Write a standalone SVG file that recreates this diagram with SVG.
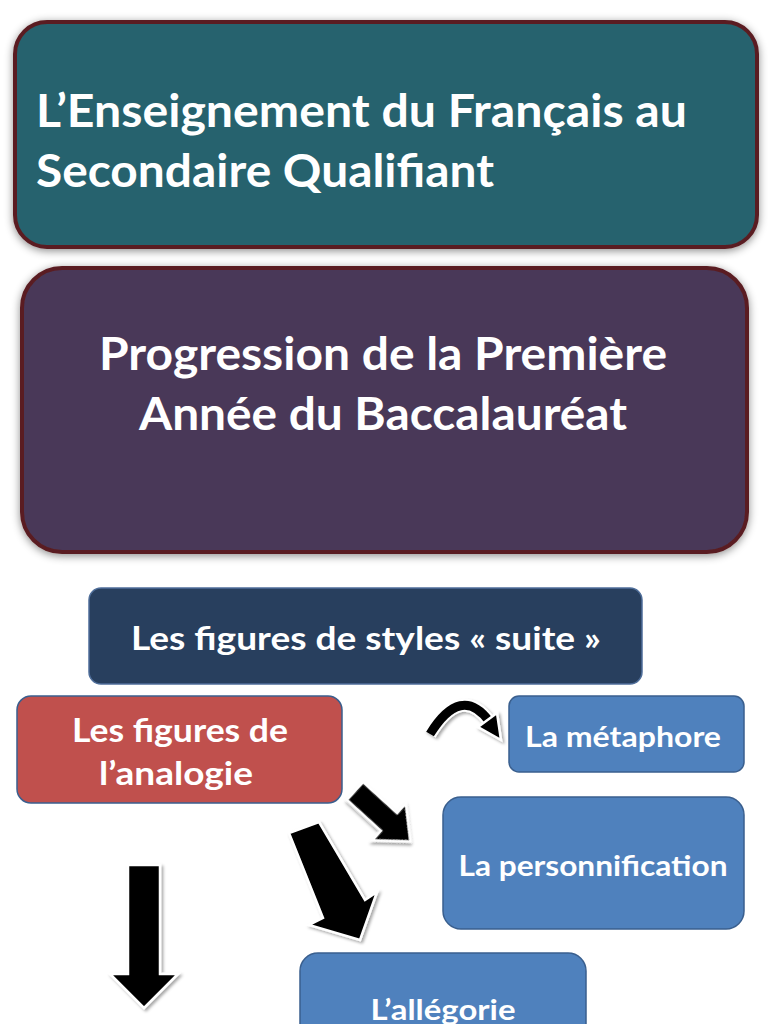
<svg xmlns="http://www.w3.org/2000/svg" width="768" height="1024" viewBox="0 0 768 1024">
<defs>
<filter id="sh" x="-10%" y="-10%" width="120%" height="120%">
<feDropShadow dx="0" dy="2" stdDeviation="4" flood-color="#000" flood-opacity="0.45"/>
</filter>
<filter id="ash" x="-20%" y="-20%" width="140%" height="140%">
<feDropShadow dx="2" dy="2" stdDeviation="1.5" flood-color="#000" flood-opacity="0.35"/>
</filter>
<style>
.t{font-family:Lato,"Open Sans","Liberation Sans",sans-serif;font-weight:bold;fill:#fff}
.big{stroke:#5a1f22;stroke-width:4}
.blue{fill:#4F81BD;stroke:#3A5F8E;stroke-width:1.5}
.arr{fill:#000;stroke:#fff;stroke-width:2.5;stroke-linejoin:miter}
</style>
</defs>
<rect width="768" height="1024" fill="#fff"/>
<g id="title">
<rect x="15" y="22" width="742" height="225" rx="32" fill="#27626E" class="big" filter="url(#sh)"/>
<text class="t" x="36" y="127" font-size="46" textLength="651" lengthAdjust="spacingAndGlyphs">L’Enseignement du Français au</text>
<text class="t" x="36" y="187" font-size="46" textLength="458" lengthAdjust="spacingAndGlyphs">Secondaire Qualifiant</text>
</g>
<g id="progression">
<rect x="22" y="268" width="725" height="284" rx="40" fill="#4A3858" class="big" filter="url(#sh)"/>
<text class="t" x="383" y="370" font-size="46" text-anchor="middle" textLength="568" lengthAdjust="spacingAndGlyphs">Progression de la Première</text>
<text class="t" x="383" y="430" font-size="46" text-anchor="middle" textLength="488" lengthAdjust="spacingAndGlyphs">Année du Baccalauréat</text>
</g>
<g id="figures-styles">
<rect x="89" y="588" width="553" height="96" rx="12" fill="#283F5E" stroke="#4F6E9A" stroke-width="1.5"/>
<text class="t" x="366" y="650" font-size="32" text-anchor="middle" textLength="470" lengthAdjust="spacingAndGlyphs">Les figures de styles «  suite »</text>
</g>
<g id="analogie">
<rect x="17" y="696" width="325" height="107" rx="14" fill="#C0504D" stroke="#3A5F8E" stroke-width="1.5"/>
<text class="t" x="180" y="742" font-size="33" text-anchor="middle" textLength="216" lengthAdjust="spacingAndGlyphs">Les figures de</text>
<text class="t" x="176" y="785" font-size="33" text-anchor="middle" textLength="154" lengthAdjust="spacingAndGlyphs">l’analogie</text>
</g>
<g id="metaphore">
<rect x="509" y="696" width="235" height="76" rx="10" class="blue"/>
<text class="t" x="623" y="747" font-size="28" text-anchor="middle" textLength="196" lengthAdjust="spacingAndGlyphs">La métaphore</text>
</g>
<g id="personnification">
<rect x="443" y="797" width="301" height="132" rx="18" class="blue"/>
<text class="t" x="593" y="876" font-size="29" text-anchor="middle" textLength="269" lengthAdjust="spacingAndGlyphs">La personnification</text>
</g>
<g id="allegorie">
<rect x="300" y="953" width="286" height="100" rx="18" class="blue"/>
<text class="t" x="443" y="1020" font-size="29" text-anchor="middle" textLength="145" lengthAdjust="spacingAndGlyphs">L’allégorie</text>
</g>
<g id="connectors">
<g filter="url(#ash)">
<path d="M430,734 Q461,684 489,721" fill="none" stroke="#fff" stroke-width="13"/>
<path d="M430,734 Q461,684 489,721" fill="none" stroke="#000" stroke-width="9"/>
<path class="arr" d="M478,727 L497,713 L501,740 Z"/>
</g>
<path class="arr" filter="url(#ash)" transform="translate(355,791) rotate(42.3)" d="M0,-12 L46,-12 L46,-25 L75,0 L46,25 L46,12 L0,12 Z"/>
<path class="arr" filter="url(#ash)" d="M289,833 L319,822 L365,900 L377,892 L360,940 L309,925 L323,918 Z"/>
<path class="arr" filter="url(#ash)" d="M128,865 L160,865 L160,974 L178,974 L144,1008 L110,974 L128,974 Z"/>
</g>
</svg>
